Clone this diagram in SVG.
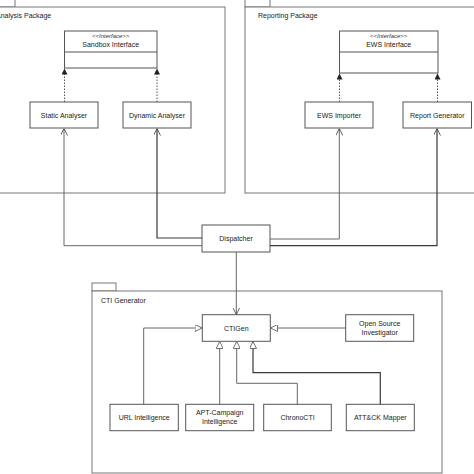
<svg xmlns="http://www.w3.org/2000/svg" width="474" height="474" viewBox="0 0 474 474">
<defs>
<style>
.pkg{fill:#fff;stroke:#777;stroke-width:1}
.box{fill:#fff;stroke:#555;stroke-width:1}
.t{font-family:"Liberation Sans",Arial,sans-serif;font-size:7px;fill:#222;text-anchor:middle}
.tl{font-family:"Liberation Sans",Arial,sans-serif;font-size:7px;fill:#222}
.st{font-family:"Liberation Sans",Arial,sans-serif;font-size:6px;font-style:italic;fill:#333;text-anchor:middle}
.ln{fill:none;stroke:#666;stroke-width:1}
.dk{fill:none;stroke:#3a3a3a;stroke-width:1.2}
.dot{fill:none;stroke:#555;stroke-width:1;stroke-dasharray:1.5,1.5}
</style>
<marker id="filled" viewBox="0 0 8 8" refX="8" refY="4" markerWidth="6" markerHeight="6" orient="auto" markerUnits="userSpaceOnUse">
<path d="M0,0 L8,4 L0,8 Z" fill="#222"/>
</marker>
<marker id="open" viewBox="0 0 10 10" refX="10" refY="5" markerWidth="7" markerHeight="7" orient="auto" markerUnits="userSpaceOnUse">
<path d="M0,0 L10,5 L0,10" fill="none" stroke="#444" stroke-width="1.2"/>
</marker>
<marker id="tri" viewBox="0 0 10 10" refX="10" refY="5" markerWidth="7" markerHeight="7" orient="auto" markerUnits="userSpaceOnUse">
<path d="M0,0 L10,5 L0,10 Z" fill="#fff" stroke="#555" stroke-width="1.2"/>
</marker>
</defs>
<rect width="474" height="474" fill="#fff"/>

<g id="analysis-package">
<rect class="pkg" x="-10" y="-10" width="25" height="17"/>
<rect class="pkg" x="-10" y="7" width="235" height="186"/>
<text class="tl" x="-4" y="18">Analysis Package</text>
</g>
<g id="reporting-package">
<rect class="pkg" x="245" y="-10" width="25" height="17"/>
<rect class="pkg" x="245" y="7" width="240" height="186"/>
<text class="tl" x="258" y="18">Reporting Package</text>
</g>
<g id="cti-generator-package">
<rect class="pkg" x="92" y="283" width="24" height="8"/>
<rect class="pkg" x="92" y="291" width="350" height="182"/>
<text class="tl" x="101" y="303">CTI Generator</text>
</g>

<g id="sandbox-interface">
<rect class="box" x="64.5" y="31" width="92.5" height="37"/>
<line class="box" x1="64.5" y1="52" x2="157" y2="52"/>
<text class="st" x="110.7" y="38">&lt;&lt;Interface&gt;&gt;</text>
<text class="t" x="110.7" y="47">Sandbox Interface</text>
</g>
<g id="static-analyser">
<rect class="box" x="30" y="102" width="68" height="26"/>
<text class="t" x="64" y="117.5">Static Analyser</text>
</g>
<g id="dynamic-analyser">
<rect class="box" x="123" y="102" width="68" height="26"/>
<text class="t" x="157" y="117.5">Dynamic Analyser</text>
</g>
<g id="ews-interface">
<rect class="box" x="339.5" y="31" width="98.5" height="42"/>
<line class="box" x1="339.5" y1="52" x2="438" y2="52"/>
<text class="st" x="388.7" y="38">&lt;&lt;Interface&gt;&gt;</text>
<text class="t" x="388.7" y="47">EWS Interface</text>
</g>
<g id="ews-importer">
<rect class="box" x="305" y="102" width="68" height="26"/>
<text class="t" x="339" y="117.5">EWS Importer</text>
</g>
<g id="report-generator">
<rect class="box" x="403" y="102" width="68.5" height="26"/>
<text class="t" x="437.3" y="117.5">Report Generator</text>
</g>
<g id="dispatcher">
<rect class="box" x="202" y="225" width="68" height="27"/>
<text class="t" x="236" y="241">Dispatcher</text>
</g>
<g id="ctigen">
<rect class="box" x="202.3" y="314.7" width="68" height="26.6"/>
<text class="t" x="236.3" y="330.5">CTIGen</text>
</g>
<g id="open-source-investigator">
<rect class="box" x="345.7" y="314.7" width="68" height="26.6"/>
<text class="t" x="379.7" y="326">Open Source</text>
<text class="t" x="379.7" y="334.5">Investigator</text>
</g>
<g id="url-intelligence">
<rect class="box" x="110" y="404.3" width="68.3" height="26.4"/>
<text class="t" x="144.2" y="420">URL Intelligence</text>
</g>
<g id="apt-campaign-intelligence">
<rect class="box" x="185.7" y="404.3" width="68" height="26.4"/>
<text class="t" x="219.7" y="415">APT-Campaign</text>
<text class="t" x="219.7" y="424">Intelligence</text>
</g>
<g id="chronocti">
<rect class="box" x="263.7" y="404.3" width="67.6" height="26.4"/>
<text class="t" x="297.5" y="420">ChronoCTI</text>
</g>
<g id="attck-mapper">
<rect class="box" x="346.3" y="404.3" width="68" height="26.4"/>
<text class="t" x="380.3" y="420">ATT&amp;CK Mapper</text>
</g>

<g id="connectors">
<line class="dot" x1="64.5" y1="102" x2="64.5" y2="68.5" marker-end="url(#filled)"/>
<line class="dot" x1="157" y1="102" x2="157" y2="68.5" marker-end="url(#filled)"/>
<line class="dot" x1="339.5" y1="102" x2="339.5" y2="73.5" marker-end="url(#filled)"/>
<line class="dot" x1="437.5" y1="102" x2="437.5" y2="73.5" marker-end="url(#filled)"/>
<polyline class="ln" points="202,245.7 64,245.7 64,128.5" marker-end="url(#open)"/>
<polyline class="dk" points="202,238 157,238 157,128.5" marker-end="url(#open)"/>
<polyline class="ln" points="270,239 339.3,239 339.3,128.5" marker-end="url(#open)"/>
<polyline class="dk" points="270,245.7 437,245.7 437,128.5" marker-end="url(#open)"/>
<line class="ln" x1="236.3" y1="252" x2="236.3" y2="314.5" marker-end="url(#open)"/>
<line class="ln" x1="345.7" y1="328" x2="270.5" y2="328" marker-end="url(#tri)"/>
<polyline class="ln" points="143.7,404.3 143.7,328 202,328" marker-end="url(#tri)"/>
<line class="ln" x1="219.7" y1="404.3" x2="219.7" y2="341.5" marker-end="url(#tri)"/>
<polyline class="ln" points="297.3,404.3 297.3,383.3 236.7,383.3 236.7,341.5" marker-end="url(#tri)"/>
<polyline class="dk" points="380.3,404.3 380.3,372.7 253,372.7 253,341.5" marker-end="url(#tri)"/>
</g>
</svg>
